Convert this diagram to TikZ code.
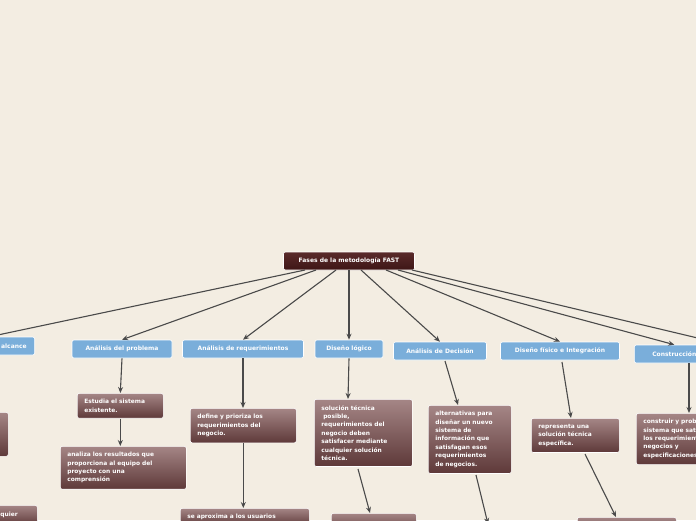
\documentclass[tikz,border=0pt]{standalone}
\usepackage{fontspec}
\setmainfont{DejaVu Sans}
\usetikzlibrary{arrows.meta}
\definecolor{bg}{HTML}{F3EDE2}
\definecolor{bluebox}{HTML}{7AAEDA}
\definecolor{roottop}{HTML}{5A2A2A}
\definecolor{rootbot}{HTML}{3E1616}
\definecolor{btop}{HTML}{A58686}
\definecolor{bbot}{HTML}{5E3939}
\definecolor{edge}{HTML}{4A4A4A}
\tikzset{
  x=1pt,y=-1pt,
  topic/.style={draw=white,line width=0.6pt,rounded corners=2pt,fill=bluebox,text=white,font=\fontsize{6}{7}\selectfont\bfseries,inner sep=0pt,minimum height=18pt},
  leaf/.style={draw=white,line width=0.6pt,rounded corners=2pt,top color=btop,bottom color=bbot,text=white,font=\fontsize{5.9}{8.4}\selectfont\bfseries,align=left,inner xsep=7pt,inner ysep=6pt,anchor=north west},
  rootbox/.style={draw=white,line width=0.6pt,rounded corners=2pt,top color=roottop,bottom color=rootbot,text=white,font=\fontsize{6}{7}\selectfont\bfseries,minimum height=18pt,minimum width=131pt},
  conn/.style={draw=edge,line width=1.1pt,-{Stealth[length=6pt,width=5pt]}}
}
\begin{document}
\begin{tikzpicture}
\useasboundingbox (0,0) rectangle (696,520);
\fill[bg] (0,0) rectangle (696,520);
\clip (0,0) rectangle (696,520);
\node[rootbox] (root) at (349,261) {Fases de la metodología FAST};
\node[topic,minimum width=90pt,anchor=east] (t0) at (35,346) {Definición del alcance};
\node[topic,minimum width=100pt] (t1) at (122,349) {Análisis del problema};
\node[topic,minimum width=121pt] (t2) at (243,349) {Análisis de requerimientos};
\node[topic,minimum width=68pt] (t3) at (349,349) {Diseño lógico};
\node[topic,minimum width=93pt] (t4) at (440,351) {Análisis de Decisión};
\node[topic,minimum width=119pt] (t5) at (560,351) {Diseño físico e Integración};
\node[topic,minimum width=80pt,anchor=west] (t6) at (634,354) {Construcción\hspace{12pt}};
\coordinate (t7) at (706,340);
\foreach \t/\sx in {t0/305,t1/316,t2/336,t3/349,t4/361,t5/386,t6/398,t7/412}
  \draw[conn] (\sx,270) -- (\t.north);

\node[leaf,minimum width=40pt,minimum height=44pt] (a1) at (-32,412) {};
\node[leaf,minimum width=70pt,minimum height=20pt] (a2) at (-33,505) {cualquier};
\node[leaf,text width=72pt] (b1) at (77,393) {Estudia el sistema\\existente.};
\node[leaf,text width=112pt] (b2) at (60,446) {analiza los resultados que\\proporciona al equipo del\\proyecto con una\\comprensión};
\node[leaf,text width=92pt] (c1) at (190,408) {define y prioriza los\\requerimientos del\\negocio.};
\node[leaf,text width=115pt] (c2) at (180,508) {se aproxima a los usuarios};
\node[leaf,text width=84pt] (d1) at (314,399) {solución técnica\\\ posible,\\requerimientos del\\negocio deben\\satisfacer mediante\\cualquier solución\\técnica.};
\node[leaf,minimum width=85pt,minimum height=20pt] (d2) at (331,513) {};
\node[leaf,text width=69pt] (e1) at (428,405) {alternativas para\\diseñar un nuevo\\sistema de\\información que\\satisfagan esos\\requerimientos\\de negocios.};
\coordinate (e2) at (488,524);
\node[leaf,text width=74pt] (f1) at (531,418) {representa una\\solución técnica\\específica.};
\node[leaf,minimum width=99pt,minimum height=20pt] (f2) at (577,517) {};
\node[leaf,text width=80pt] (g1) at (636,413) {construir y probar un\\sistema que satisfaga\\los requerimientos de\\negocios y\\especificaciones};

\draw[conn] (t1.south) -- (b1.north);
\draw[conn] (b1.south) -- (b2.north-|b1.south);
\draw[conn] (t2.south) -- (t2.south|-c1.north);
\draw[conn] (c1.south) -- (c1.south|-c2.north);
\draw[conn] (t3.south) -- (348,399);
\draw[conn] (358,469) -- (370,513);
\draw[conn] (445,361) -- (458,405);
\draw[conn] (476,475) -- (e2);
\draw[conn] (562,362) -- (571,418);
\draw[conn] (585,454) -- (616,517);
\draw[conn] (689,363) -- (689,413);
\end{tikzpicture}
\end{document}
